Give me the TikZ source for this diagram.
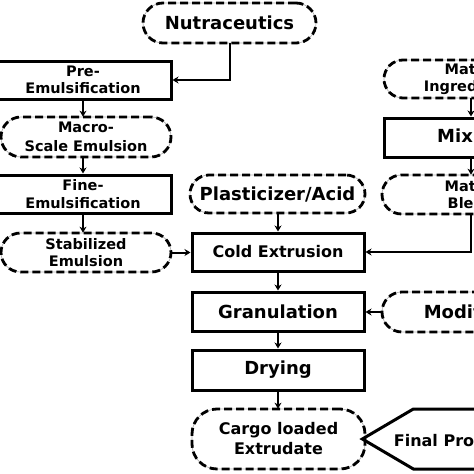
\documentclass[tikz,border=0pt]{standalone}
\usepackage{fontspec}
\setmainfont{DejaVu Sans}
\usetikzlibrary{arrows.meta}
\newcommand\fsz[2]{\fontsize{#1}{#2}\selectfont\bfseries}
\begin{document}
\begin{tikzpicture}[x=1pt,y=-1pt,
  boxn/.style={draw=black, line width=3pt, inner sep=0pt, align=center},
  term/.style={draw=gray!60, line width=0.7pt, inner sep=0pt, align=center,
    postaction={draw=black, line width=2.8pt, dash pattern=on 8pt off 4pt}},
  arr/.style={draw=black, line width=2pt, -{Stealth[length=6pt,width=7pt]}},
  plainline/.style={draw=black, line width=2pt}
]
\useasboundingbox (0,0) rectangle (474,474);
\clip (0,0) rectangle (474,474);

% top
\node[term, rounded corners=20pt, minimum width=173pt, minimum height=40pt, font=\fsz{18}{22}] (nut) at (229.5,23) {Nutraceutics};

% left column
\node[boxn, minimum width=176pt, minimum height=38pt, font=\fsz{14.5}{17.5}] (pre) at (83,80) {Pre-\\Emulsification};
\node[term, rounded corners=20pt, minimum width=170pt, minimum height=40pt, font=\fsz{14.5}{18.5}] (macro) at (86,137) {Macro-\\Scale Emulsion};
\node[boxn, minimum width=176pt, minimum height=38pt, font=\fsz{14.5}{17.5}] (fine) at (83,194) {Fine-\\Emulsification};
\node[term, rounded corners=19.5pt, minimum width=170pt, minimum height=39pt, font=\fsz{14.5}{17}] (stab) at (86,252.5) {Stabilized\\Emulsion};

% middle column
\node[term, rounded corners=19pt, minimum width=175pt, minimum height=38pt, font=\fsz{18}{22}] (plast) at (277.5,194) {Plasticizer/Acid};
\node[boxn, minimum width=172pt, minimum height=38pt, font=\fsz{16}{20}] (cold) at (278,252) {Cold Extrusion};
\node[boxn, minimum width=172pt, minimum height=39pt, font=\fsz{18}{22}] (gran) at (278,311.5) {Granulation};
\node[boxn, minimum width=172pt, minimum height=40pt, font=\fsz{18}{22}] (dry) at (278,370) {Drying};
\node[term, rounded corners=25pt, minimum width=173pt, minimum height=60pt, font=\fsz{16}{20}] (cargo) at (278.5,439) {Cargo loaded\\Extrudate};

% right column
\node[term, rounded corners=19pt, minimum width=174pt, minimum height=38pt, font=\fsz{14.5}{17.5}] (matI) at (471,79) {Matrix\\Ingredients};
\node[boxn, minimum width=174pt, minimum height=39pt, font=\fsz{18}{22}] (mix) at (471,137.5) {Mixing};
\node[term, rounded corners=19.5pt, minimum width=178pt, minimum height=39pt, font=\fsz{14.5}{17.5}] (matB) at (471,194.5) {Matrix\\Blend};
\node[term, rounded corners=20pt, minimum width=178pt, minimum height=40pt, font=\fsz{18}{22}] (modif) at (471,312) {Modifiers};

% final product
\coordinate (tip) at ([xshift=-3pt]cargo.east);
\draw[line width=3pt, line join=miter] (tip) -- ++(51,-30) -- ++(200,0) -- ++(0,60) -- ++(-200,0) -- cycle;
\node[inner sep=0pt, font=\fsz{16}{20}] (final) at (454,441) {Final Product};

% connectors
\draw[arr] (nut.south) |- (pre.east);
\draw[arr] (pre.south) -- (pre.south |- macro.north);
\draw[arr] (fine.north |- macro.south) -- (fine.north);
\draw[arr] (fine.south) -- (fine.south |- stab.north);
\draw[arr] (stab.east) -- (stab.east -| cold.west);
\draw[arr] (plast.south -| cold.north) -- (cold.north);
\draw[arr] (cold.south) -- (gran.north);
\draw[arr] (gran.south) -- (dry.north);
\draw[arr] (dry.south) -- (dry.south |- cargo.north);
\draw[arr] (matI.south) -- (mix.north);
\draw[arr] (mix.south) -- (matB.north);
\draw[arr] (matB.south) |- (cold.east);
\draw[arr] (modif.west) -- (modif.west -| gran.east);
\end{tikzpicture}
\end{document}
